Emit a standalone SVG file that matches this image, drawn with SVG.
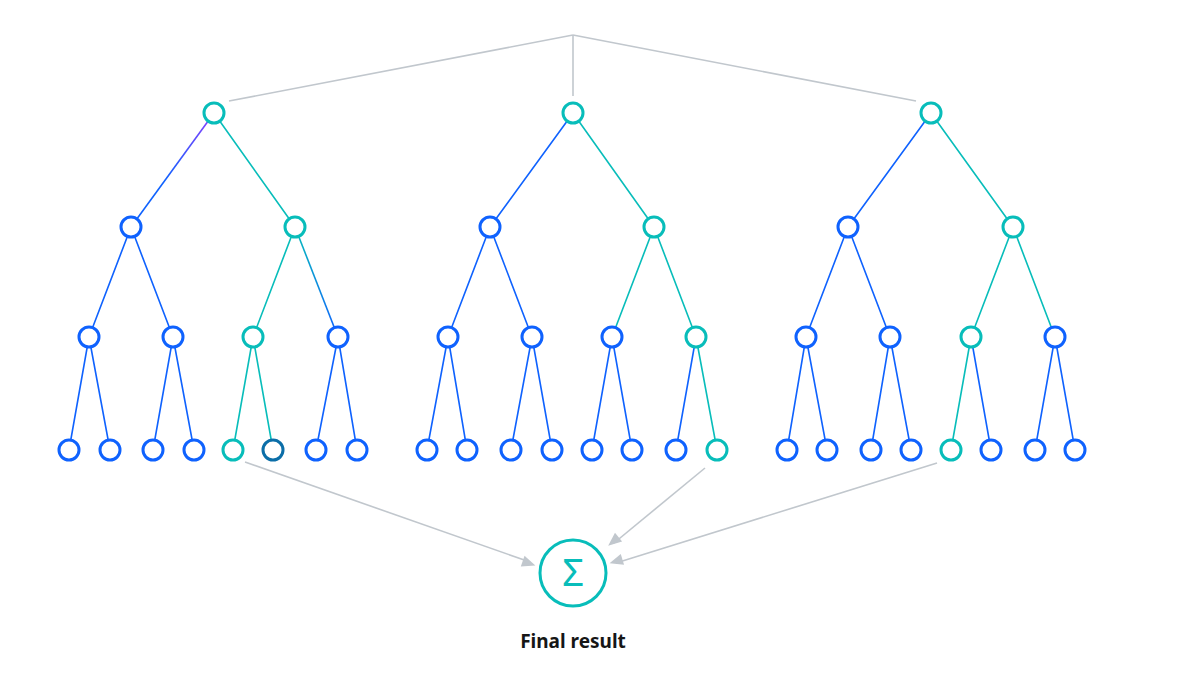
<svg xmlns="http://www.w3.org/2000/svg" width="1200" height="689" viewBox="0 0 1200 689">
<style>
.n{fill:#fff;stroke-width:3}.b{stroke:#0f62fe}.t{stroke:#08bdba}.d{stroke:#0b6ea8}
.e{stroke-width:1.6;fill:none}.eb{stroke:#0f62fe}.et{stroke:#08bdba}
.g{stroke:#c1c7cd;stroke-width:1.6;fill:none}
</style>
<defs>
<linearGradient id="pb" gradientUnits="userSpaceOnUse" x1="214" y1="113" x2="131" y2="227"><stop offset="0" stop-color="#8a3ffc"/><stop offset="0.6" stop-color="#0f62fe"/></linearGradient>
<linearGradient id="tb1" gradientUnits="userSpaceOnUse" x1="0" y1="227" x2="0" y2="337"><stop offset="0" stop-color="#08bdba"/><stop offset="1" stop-color="#0f62fe"/></linearGradient>
<marker id="ar" viewBox="0 0 10 10" refX="9" refY="5" markerWidth="8" markerHeight="8" orient="auto" markerUnits="userSpaceOnUse" style="overflow:visible"><path d="M0,0 L12,5 L0,10 z" transform="scale(1.4)" fill="#c1c7cd"/></marker>
</defs>
<g id="connectors">
<path class="g" d="M573,35 L229,101 M573,35 L573,96 M573,35 L916,101"/>
<path class="g" d="M245,462 L530,562" marker-end="url(#ar)"/>
<path class="g" d="M705,468 L614,543" marker-end="url(#ar)"/>
<path class="g" d="M937,463 L616,563" marker-end="url(#ar)"/>
<!-- tree 1 -->
<path class="e" stroke="url(#pb)" d="M214,113 L131,227"/>
<path class="e et" d="M214,113 L295,227 M295,227 L253,337 M253,337 L233,450 M253,337 L273,450"/>
<path class="e" stroke="url(#tb1)" d="M295,227 L338,337"/>
<path class="e eb" d="M131,227 L89,337 M131,227 L173,337 M89,337 L69,450 M89,337 L110,450 M173,337 L153,450 M173,337 L194,450 M338,337 L316,450 M338,337 L357,450"/>
<!-- tree 2 -->
<path class="e eb" d="M573,113 L490,227 M490,227 L448,337 M490,227 L532,337 M448,337 L427,450 M448,337 L467,450 M532,337 L511,450 M532,337 L552,450 M612,337 L592,450 M612,337 L632,450 M696,337 L676,450"/>
<path class="e et" d="M573,113 L654,227 M654,227 L612,337 M654,227 L696,337 M696,337 L717,450"/>
<!-- tree 3 -->
<path class="e eb" d="M931,113 L848,227 M848,227 L806,337 M848,227 L890,337 M806,337 L787,450 M806,337 L827,450 M890,337 L871,450 M890,337 L911,450 M971,337 L991,450 M1055,337 L1035,450 M1055,337 L1075,450"/>
<path class="e et" d="M931,113 L1013,227 M1013,227 L971,337 M1013,227 L1055,337 M971,337 L951,450"/>
</g>
<g id="tree1">
<circle id="t1r" class="n t" cx="214" cy="113" r="10"/>
<circle class="n b" cx="131" cy="227" r="10"/><circle class="n t" cx="295" cy="227" r="10"/>
<circle class="n b" cx="89" cy="337" r="10"/><circle class="n b" cx="173" cy="337" r="10"/><circle class="n t" cx="253" cy="337" r="10"/><circle class="n b" cx="338" cy="337" r="10"/>
<circle class="n b" cx="69" cy="450" r="10"/><circle class="n b" cx="110" cy="450" r="10"/><circle class="n b" cx="153" cy="450" r="10"/><circle class="n b" cx="194" cy="450" r="10"/><circle class="n t" cx="233" cy="450" r="10"/><circle class="n d" cx="273" cy="450" r="10"/><circle class="n b" cx="316" cy="450" r="10"/><circle class="n b" cx="357" cy="450" r="10"/>
</g>
<g id="tree2">
<circle class="n t" cx="573" cy="113" r="10"/>
<circle class="n b" cx="490" cy="227" r="10"/><circle class="n t" cx="654" cy="227" r="10"/>
<circle class="n b" cx="448" cy="337" r="10"/><circle class="n b" cx="532" cy="337" r="10"/><circle class="n b" cx="612" cy="337" r="10"/><circle class="n t" cx="696" cy="337" r="10"/>
<circle class="n b" cx="427" cy="450" r="10"/><circle class="n b" cx="467" cy="450" r="10"/><circle class="n b" cx="511" cy="450" r="10"/><circle class="n b" cx="552" cy="450" r="10"/><circle class="n b" cx="592" cy="450" r="10"/><circle class="n b" cx="632" cy="450" r="10"/><circle class="n b" cx="676" cy="450" r="10"/><circle class="n t" cx="717" cy="450" r="10"/>
</g>
<g id="tree3">
<circle class="n t" cx="931" cy="113" r="10"/>
<circle class="n b" cx="848" cy="227" r="10"/><circle class="n t" cx="1013" cy="227" r="10"/>
<circle class="n b" cx="806" cy="337" r="10"/><circle class="n b" cx="890" cy="337" r="10"/><circle class="n t" cx="971" cy="337" r="10"/><circle class="n b" cx="1055" cy="337" r="10"/>
<circle class="n b" cx="787" cy="450" r="10"/><circle class="n b" cx="827" cy="450" r="10"/><circle class="n b" cx="871" cy="450" r="10"/><circle class="n b" cx="911" cy="450" r="10"/><circle class="n t" cx="951" cy="450" r="10"/><circle class="n b" cx="991" cy="450" r="10"/><circle class="n b" cx="1035" cy="450" r="10"/><circle class="n b" cx="1075" cy="450" r="10"/>
</g>
<g id="result">
<circle cx="573" cy="573" r="33" fill="#fff" stroke="#08bdba" stroke-width="3"/>
<text x="573" y="586" text-anchor="middle" font-family="'Noto Sans','DejaVu Sans',sans-serif" font-size="38" fill="#08bdba">Σ</text>
<text x="573" y="648" text-anchor="middle" font-family="'Noto Sans','Liberation Sans',sans-serif" font-size="19" font-weight="bold" fill="#161616">Final result</text>
</g>
</svg>
